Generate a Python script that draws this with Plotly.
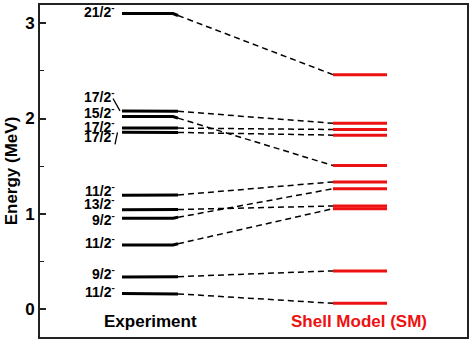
import plotly.graph_objects as go

# Data (MeV)
exp_labels = ["21/2", "17/2", "15/2", "17/2", "17/2", "11/2", "13/2", "9/2", "11/2", "9/2", "11/2"]
exp_energy = [3.10, 2.08, 2.02, 1.90, 1.855, 1.195, 1.045, 0.955, 0.675, 0.34, 0.165]
sm_energy = [2.46, 1.95, 1.507, 1.885, 1.826, 1.336, 1.083, 1.264, 1.055, 0.403, 0.063]
# label placement (energy at which each label box is centred)
label_pos = [3.125, 2.24, 2.07, 1.92, 1.82, 1.255, 1.11, 0.948, 0.71, 0.38, 0.19]

# layout constants (x in pixel-like units of the plot area)
EXP_X0, EXP_X1, BEND_X = 122, 173, 178
SM_X0, SM_X1 = 333, 387
FONT = "Liberation Sans, Arial, Helvetica, sans-serif"
RED = "#ee1111"

fig = go.Figure()

# experimental levels (with short bend toward the connector)
ex, ey = [], []
cx, cy = [], []
for a, b in zip(exp_energy, sm_energy):
    yb = a + (b - a) * (BEND_X - EXP_X1) / (SM_X0 - EXP_X1)
    ex += [EXP_X0, EXP_X1, BEND_X, None]
    ey += [a, a, yb, None]
    cx += [BEND_X, SM_X0, None]
    cy += [yb, b, None]
fig.add_trace(go.Scatter(x=ex, y=ey, mode="lines", line=dict(color="black", width=3),
                         hoverinfo="skip", showlegend=False))

# shell model levels
sx, sy = [], []
for e in sm_energy:
    sx += [SM_X0, SM_X1, None]
    sy += [e, e, None]
fig.add_trace(go.Scatter(x=sx, y=sy, mode="lines", line=dict(color=RED, width=3),
                         hoverinfo="skip", showlegend=False))

# connectors
fig.add_trace(go.Scatter(x=cx, y=cy, mode="lines",
                         line=dict(color="black", width=1.5, dash="6px,4px"),
                         hoverinfo="skip", showlegend=False))

# leader lines for crowded labels
lx = [113, 120, None, 115, 117.5]
ly = [2.21, exp_energy[1], None, 1.73, exp_energy[4]]
fig.add_trace(go.Scatter(x=lx, y=ly, mode="lines", line=dict(color="black", width=1.3),
                         hoverinfo="skip", showlegend=False))

for lab, yp in zip(exp_labels, label_pos):
    fig.add_annotation(x=117, y=yp, xref="x", yref="y", xanchor="right", yanchor="middle",
                       text=lab + "<sup>-</sup>", showarrow=False,
                       font=dict(family=FONT, size=14, color="black", weight="bold"))

fig.add_annotation(x=150, y=-0.13, xref="x", yref="y", text="Experiment",
                   showarrow=False, font=dict(family=FONT, size=17, color="black", weight="bold"))
fig.add_annotation(x=359, y=-0.13, xref="x", yref="y", text="Shell Model (SM)",
                   showarrow=False, font=dict(family=FONT, size=17, color=RED, weight="bold"))

fig.update_layout(
    width=474, height=342,
    margin=dict(l=40, r=7, t=3, b=5),
    paper_bgcolor="white", plot_bgcolor="white",
    font=dict(family=FONT, color="black"),
    xaxis=dict(range=[40, 467], showticklabels=False, ticks="", showgrid=False,
               zeroline=False, showline=True, mirror=True, linecolor="#222", linewidth=2),
    yaxis=dict(range=[-0.29, 3.19], tickvals=[0, 1, 2, 3],
               ticks="inside", ticklen=6, tickwidth=1.5, tickcolor="#222",
               minor=dict(tickvals=[0.5, 1.5, 2.5], ticks="inside", ticklen=4, tickwidth=1.3, tickcolor="#222"),
               showgrid=False, zeroline=False, showline=True, mirror=True, linecolor="#222", linewidth=2,
               tickfont=dict(family=FONT, size=17, color="black", weight="bold"),
               title=dict(text="Energy (MeV)", font=dict(family=FONT, size=17, color="black", weight="bold"), standoff=3)),
)

fig.write_html("out.html")
